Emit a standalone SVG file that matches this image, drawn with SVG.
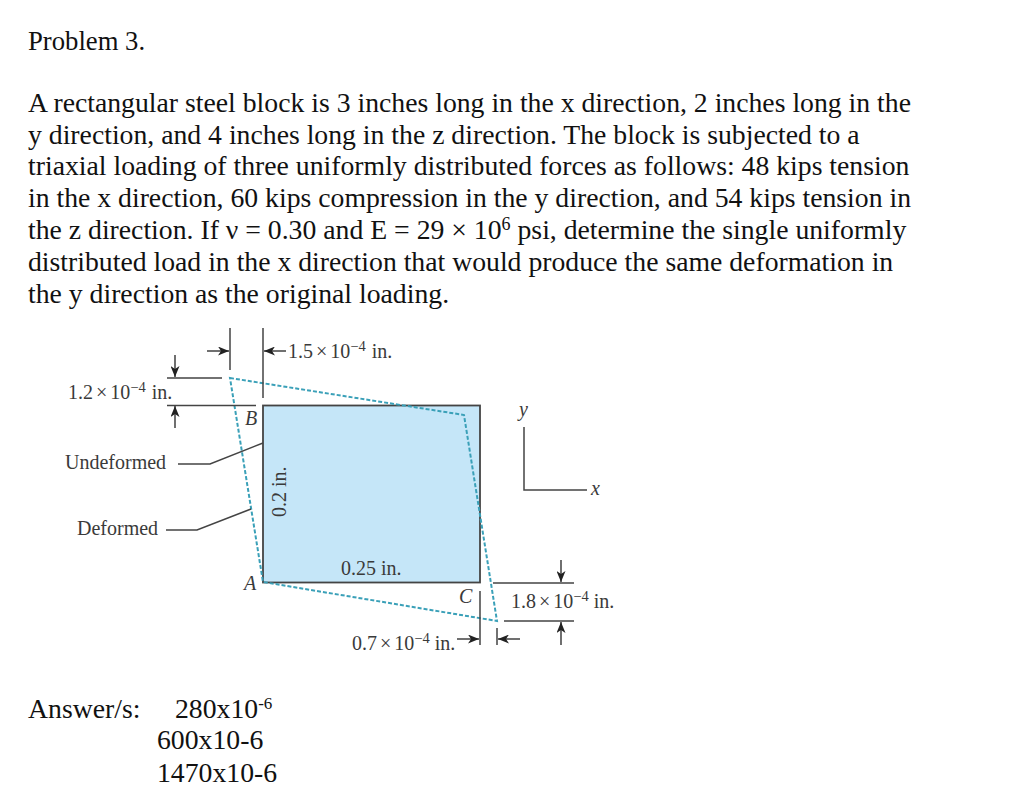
<svg xmlns="http://www.w3.org/2000/svg" width="1021" height="791" viewBox="0 0 1021 791">
<style>
.t{font-family:"Liberation Serif","Times New Roman",serif;font-size:27.72px;fill:#111}
.s{font-family:"Liberation Serif","Times New Roman",serif;font-size:20px;fill:#3a3a3a}
.i{font-style:italic}
.l{stroke:#444;stroke-width:1.5;fill:none}
.d{stroke:#3aa0b8;stroke-width:2;stroke-dasharray:4 2;fill:none}
.a{stroke:#333;stroke-width:1.4;fill:none;marker-end:url(#h)}
</style>
<defs><marker id="h" markerUnits="userSpaceOnUse" markerWidth="12" markerHeight="9" refX="11" refY="4.5" orient="auto"><path d="M0 0L11 4.5L0 9L3 4.5Z" fill="#222"/></marker></defs>
<rect width="1021" height="791" fill="#fff"/>
<g id="problem-text">
<text class="t" x="28" y="50" style="font-size:26.7px">Problem 3.</text>
<text class="t" x="28" y="112">A rectangular steel block is 3 inches long in the x direction, 2 inches long in the</text>
<text class="t" x="28" y="144">y direction, and 4 inches long in the z direction. The block is subjected to a</text>
<text class="t" x="28" y="175">triaxial loading of three uniformly distributed forces as follows: 48 kips tension</text>
<text class="t" x="28" y="207">in the x direction, 60 kips compression in the y direction, and 54 kips tension in</text>
<text class="t" x="28" y="239">the z direction. If ν = 0.30 and E = 29 × 10<tspan dy="-9" font-size="18">6</tspan><tspan dy="9"> psi, determine the single uniformly</tspan></text>
<text class="t" x="28" y="271">distributed load in the x direction that would produce the same deformation in</text>
<text class="t" x="28" y="303">the y direction as the original loading.</text>
</g>
<g id="block"><rect x="263" y="405.500" width="217" height="177" fill="#c5e6f8" stroke="#444" stroke-width="1.8"/></g>
<g id="deformed-outline"><path class="d" d="M230 378L464 415L497 621L263 582Z"/></g>
<g id="connectors">
<path class="l" d="M230 328V370M263 328V398M167 378H222M167 405.500H256"/>
<path class="a" d="M207 351H229"/><path class="a" d="M286 351H264"/>
<path class="a" d="M175 355V377"/><path class="a" d="M175 428V406"/>
<path class="l" d="M178 464H210L263 443M166 530H197L251 509"/>
<path class="l" d="M524 427V490H587"/>
<path class="l" d="M480 591V645M497 628V645M493 583H574M504 621H574"/>
<path class="a" d="M457 639H479"/><path class="a" d="M520 639H498"/>
<path class="a" d="M561 560V582"/><path class="a" d="M561 645V622"/>
</g>
<g id="labels">
<text class="s" x="68" y="399">1.2<tspan dx="3">×</tspan><tspan dx="3">10</tspan><tspan dy="-7" font-size="14.500">−4</tspan><tspan dy="7" dx="1"> in.</tspan></text>
<text class="s" x="288" y="358">1.5<tspan dx="3">×</tspan><tspan dx="3">10</tspan><tspan dy="-7" font-size="14.500">−4</tspan><tspan dy="7" dx="1"> in.</tspan></text>
<text class="s" x="65" y="469">Undeformed</text>
<text class="s" x="77" y="535">Deformed</text>
<text class="s i" x="245" y="425">B</text>
<text class="s i" x="244" y="590">A</text>
<text class="s i" x="459" y="603">C</text>
<text class="s i" x="519" y="416">y</text>
<text class="s i" x="591" y="495">x</text>
<text class="s" x="341" y="575">0.25 in.</text>
<text class="s" transform="translate(286 517) rotate(-90)">0.2 in.</text>
<text class="s" x="511" y="608">1.8<tspan dx="3">×</tspan><tspan dx="3">10</tspan><tspan dy="-7" font-size="14.500">−4</tspan><tspan dy="7"> in.</tspan></text>
<text class="s" x="352" y="650">0.7<tspan dx="3">×</tspan><tspan dx="3">10</tspan><tspan dy="-7" font-size="14.500">−4</tspan><tspan dy="7"> in.</tspan></text>
</g>
<g id="answers">
<text class="t" x="28" y="718">Answer/s:</text>
<text class="t" x="175" y="718">280x10<tspan dy="-9" font-size="17">-6</tspan></text>
<text class="t" x="157" y="749">600x10-6</text>
<text class="t" x="157" y="782">1470x10-6</text>
</g>
</svg>
